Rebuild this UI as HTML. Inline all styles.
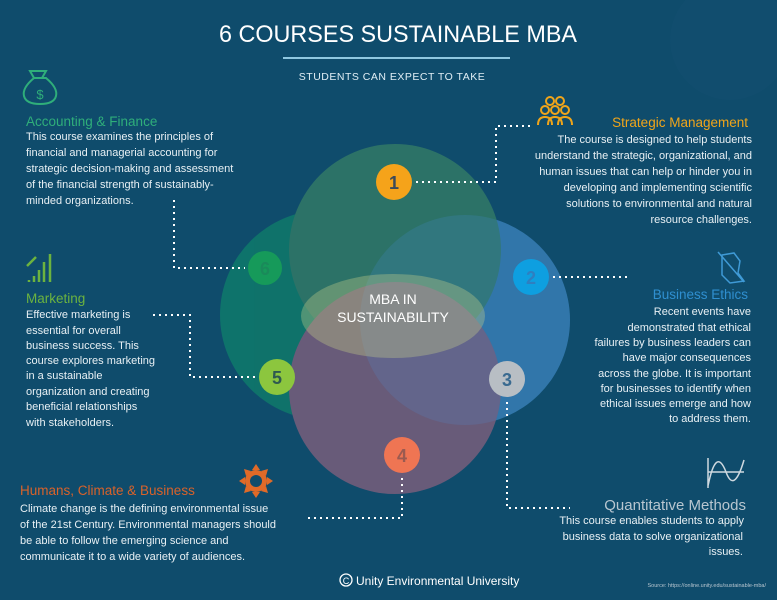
<!DOCTYPE html>
<html><head><meta charset="utf-8"><style>
html,body{margin:0;padding:0;width:777px;height:600px;overflow:hidden;background:#0f4c6c}
svg text{font-family:"Liberation Sans",sans-serif}
</style></head><body>
<svg width="777" height="600" viewBox="0 0 777 600" xmlns="http://www.w3.org/2000/svg">
<rect width="777" height="600" fill="#0f4c6c"/>
<circle cx="730" cy="40" r="60" fill="#134f70" opacity="0.6"/>
<text x="398" y="42" text-anchor="middle" font-size="24" fill="#fff" textLength="358" lengthAdjust="spacingAndGlyphs">6 COURSES SUSTAINABLE MBA</text>
<line x1="283" y1="58" x2="510" y2="58" stroke="#8fc7e0" stroke-width="2"/>
<text x="392" y="80" text-anchor="middle" font-size="10.5" fill="#e0eef5" letter-spacing="0.5">STUDENTS CAN EXPECT TO TAKE</text>

<g opacity="0.62">
<circle cx="325" cy="315" r="105" fill="#0f8a6a"/>
<circle cx="465" cy="320" r="105" fill="#3f88c4"/>
<circle cx="395" cy="250" r="106" fill="#3f8a64"/>
<circle cx="395" cy="388" r="106" fill="#8b5a6a"/>
</g>
<circle cx="465" cy="320" r="105" fill="#3f88c4" opacity="0.25"/>
<circle cx="395" cy="388" r="106" fill="#9a7ab8" opacity="0.2"/>
<ellipse cx="393" cy="316" rx="92" ry="42" fill="#c8d08a" opacity="0.35"/>
<text x="393" y="304" text-anchor="middle" font-size="14" fill="#fff">MBA IN</text>
<text x="393" y="322" text-anchor="middle" font-size="14" fill="#fff">SUSTAINABILITY</text>

<g stroke="#fff" stroke-width="2" stroke-dasharray="2,4" fill="none">
<polyline points="416,182 496,182 496,126 530,126"/>
<polyline points="174,200 174,268 245,268"/>
<polyline points="553,277 630,277"/>
<polyline points="153,315 190,315 190,377 258,377"/>
<polyline points="507,402 507,508 570,508"/>
<polyline points="402,478 402,518 305,518"/>
</g>

<circle cx="394" cy="182" r="18" fill="#f5a31a"/><text x="394" y="189" text-anchor="middle" font-size="18" font-weight="bold" fill="#3b4a5a">1</text>
<circle cx="531" cy="277" r="18" fill="#0e9fe0"/><text x="531" y="284" text-anchor="middle" font-size="18" font-weight="bold" fill="#2f7fc0">2</text>
<circle cx="507" cy="379" r="18" fill="#b8bec4"/><text x="507" y="386" text-anchor="middle" font-size="18" font-weight="bold" fill="#3a6a90">3</text>
<circle cx="402" cy="455" r="18" fill="#ef7553"/><text x="402" y="462" text-anchor="middle" font-size="18" font-weight="bold" fill="#9a5a50">4</text>
<circle cx="277" cy="377" r="18" fill="#8cc63e"/><text x="277" y="384" text-anchor="middle" font-size="18" font-weight="bold" fill="#2f5a50">5</text>
<circle cx="265" cy="268" r="17" fill="#169a5a"/><text x="265" y="275" text-anchor="middle" font-size="18" font-weight="bold" fill="#1a8a5a">6</text>

<g stroke="#2fae7a" stroke-width="2" fill="none">
<path d="M34 78 q-12 10 -10 18 q2 8 16 8 q14 0 16 -8 q2 -8 -10 -18 z"/><path d="M34 78 l-4 -7 h16 l-4 7"/>
</g>
<text x="40" y="99" text-anchor="middle" font-size="13" fill="#2fae7a">$</text>
<g stroke="#6cb33f" stroke-width="2.5">
<line x1="29" y1="282" x2="29" y2="280"/><line x1="34" y1="282" x2="34" y2="276"/><line x1="39" y1="282" x2="39" y2="270"/><line x1="44" y1="282" x2="44" y2="262"/><line x1="50" y1="282" x2="50" y2="254"/>
<line x1="27" y1="266" x2="36" y2="257"/></g>
<g stroke="#f0a51a" stroke-width="2" fill="none">
<circle cx="550" cy="101" r="4"/><circle cx="560" cy="101" r="4"/><circle cx="545" cy="110" r="4"/><circle cx="555" cy="110" r="4"/><circle cx="565" cy="110" r="4"/>
<path d="M538 125 q0 -8 7 -8 q7 0 7 8 M548 125 q0 -8 7 -8 q7 0 7 8 M558 125 q0 -8 7 -8 q7 0 7 8"/></g>
<g stroke="#3f9ad6" stroke-width="1.5" fill="none"><path d="M722 255 l12 -2 l6 8 l-2 12 l6 8 l-14 2 l-8 -8 z"/><line x1="718" y1="252" x2="744" y2="282"/></g>
<g stroke="#cfd9e0" stroke-width="1.5" fill="none"><path d="M708 488 v-30 M708 472 h36 M708 486 q8 -40 18 -14 q8 22 18 -12"/></g>
<g fill="#e06a28"><circle cx="256" cy="481" r="11"/><path d="M256 464 l4 6 h-8z M256 498 l4 -6 h-8z M239 481 l6 4 v-8z M273 481 l-6 4 v-8z M244 469 l7 2 l-5 5z M268 469 l-7 2 l5 5z M244 493 l7 -2 l-5 -5z M268 493 l-7 -2 l5 -5z"/></g>
<circle cx="256" cy="481" r="6" fill="#0f4c6c"/>

<g font-size="11" fill="#e8f0f4">
<text x="26" y="126" font-size="13.5" fill="#2fae7a">Accounting &amp; Finance</text>
<text x="26" y="140">This course examines the principles of</text>
<text x="26" y="156">financial and managerial accounting for</text>
<text x="26" y="172">strategic decision-making and assessment</text>
<text x="26" y="188">of the financial strength of sustainably-</text>
<text x="26" y="204">minded organizations.</text>

<text x="26" y="303" font-size="13.5" fill="#6cb33f">Marketing</text>
<text x="26" y="318">Effective marketing is</text>
<text x="26" y="334">essential for overall</text>
<text x="26" y="349">business success. This</text>
<text x="26" y="364">course explores marketing</text>
<text x="26" y="379">in a sustainable</text>
<text x="26" y="395">organization and creating</text>
<text x="26" y="410">beneficial relationships</text>
<text x="26" y="426">with stakeholders.</text>

<text x="20" y="495" font-size="13.5" fill="#d9622a">Humans, Climate &amp; Business</text>
<text x="20" y="512">Climate change is the defining environmental issue</text>
<text x="20" y="528">of the 21st Century. Environmental managers should</text>
<text x="20" y="544">be able to follow the emerging science and</text>
<text x="20" y="560">communicate it to a wide variety of audiences.</text>

<g text-anchor="end">
<text x="748" y="127" font-size="13.5" fill="#f0a51a">Strategic Management</text>
<text x="752" y="143">The course is designed to help students</text>
<text x="752" y="159">understand the strategic, organizational, and</text>
<text x="752" y="175">human issues that can help or hinder you in</text>
<text x="752" y="191">developing and implementing scientific</text>
<text x="752" y="207">solutions to environmental and natural</text>
<text x="752" y="223">resource challenges.</text>

<text x="748" y="299" font-size="13.5" fill="#2f8fd0">Business Ethics</text>
<text x="751" y="315">Recent events have</text>
<text x="751" y="331">demonstrated that ethical</text>
<text x="751" y="346">failures by business leaders can</text>
<text x="751" y="361">have major consequences</text>
<text x="751" y="377">across the globe. It is important</text>
<text x="751" y="392">for businesses to identify when</text>
<text x="751" y="407">ethical issues emerge and how</text>
<text x="751" y="422">to address them.</text>

<text x="746" y="510" font-size="15" fill="#b8c6d0">Quantitative Methods</text>
<text x="744" y="524">This course enables students to apply</text>
<text x="743" y="540">business data to solve organizational</text>
<text x="743" y="555">issues.</text>
</g>
</g>
<circle cx="346" cy="580" r="6" fill="none" stroke="#fff" stroke-width="1.3"/>
<text x="346" y="584" text-anchor="middle" font-size="9" fill="#fff">C</text>
<text x="356" y="585" font-size="12" fill="#fff">Unity Environmental University</text>
<text x="766" y="587" text-anchor="end" font-size="5.5" fill="#b8c6d0">Source: https://online.unity.edu/sustainable-mba/</text>
</svg>
</body></html>
